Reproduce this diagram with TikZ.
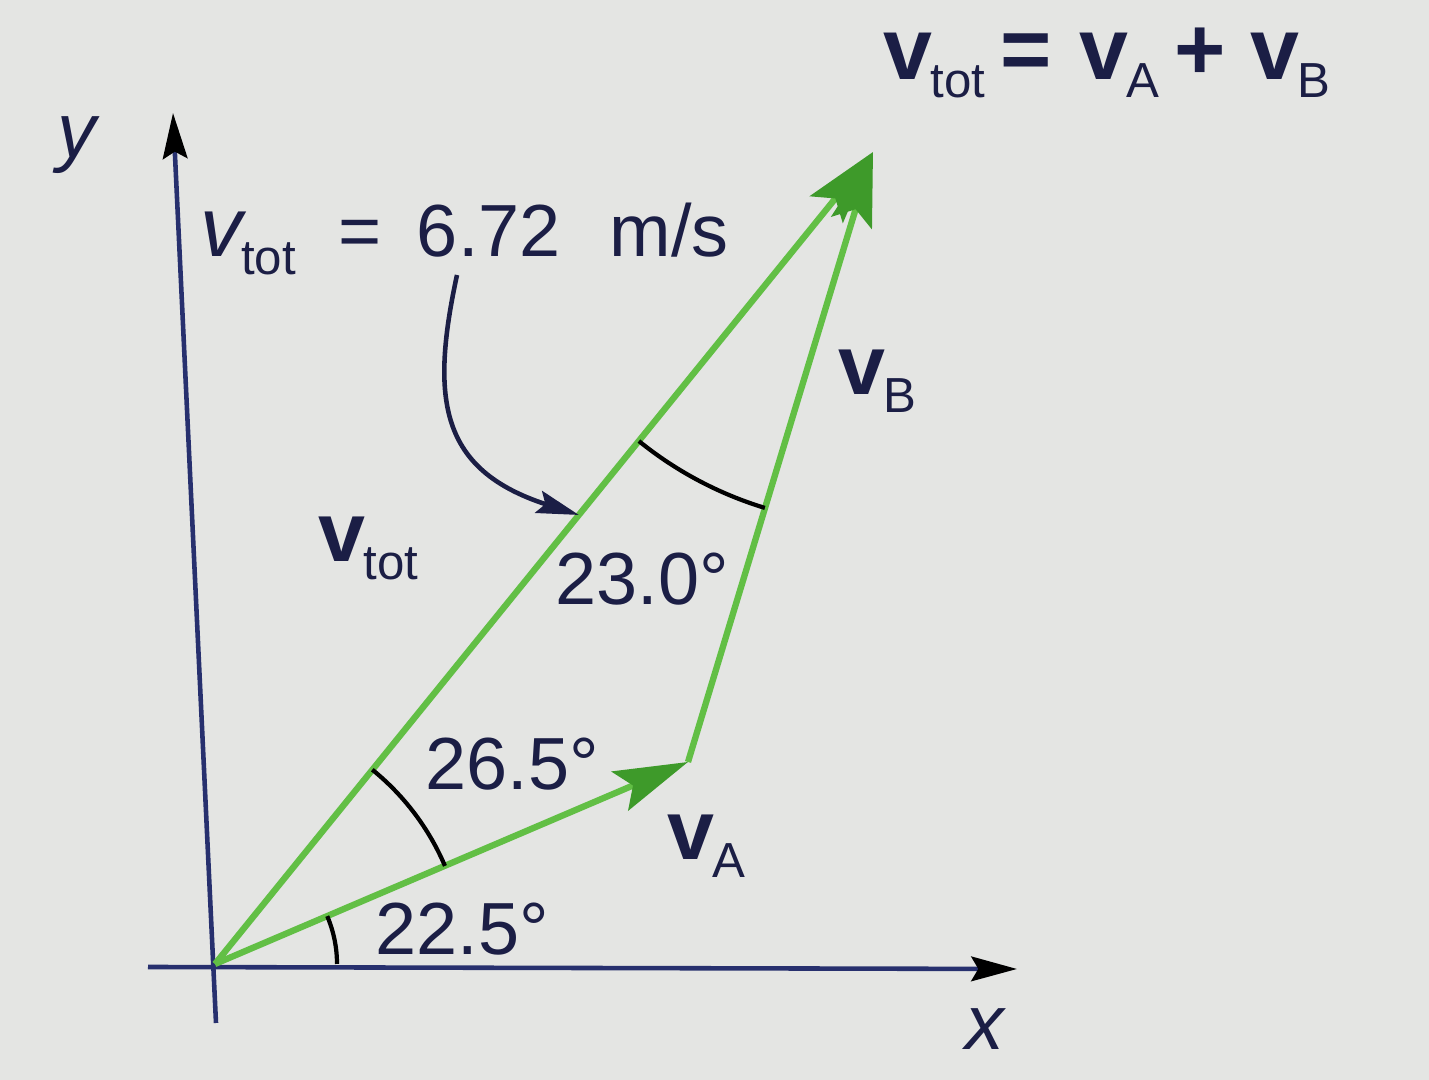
\documentclass[tikz,border=0pt]{standalone}
\usepackage{fontspec}
\setmainfont{Liberation Sans}
\usepackage{tikz}
\usetikzlibrary{arrows.meta}
\definecolor{bg}{HTML}{E4E5E3}
\definecolor{ink}{HTML}{1B1E45}
\definecolor{axis}{HTML}{27306E}
\definecolor{vline}{HTML}{62BF45}
\definecolor{vhead}{HTML}{3E9A2A}
\newcommand{\vel}[2]{#1\kern-0.5pt\raisebox{-5pt}{\fontsize{14}{16}\selectfont\mdseries\upshape #2}}

\begin{document}
\begin{tikzpicture}[x=0.01cm,y=-0.01cm,
  vec/.style={vline,line width=1.8pt,-{Stealth[length=21pt,width=12pt,inset=4pt,color=vhead]}},
  ax/.style={axis,line width=1.3pt,-{Stealth[length=13pt,width=7pt,inset=2pt,color=black]}},
  ang/.style={black,line width=1.2pt},
  num/.style={inner sep=0pt,text=ink,font=\fontsize{21}{25}\selectfont,anchor=base west},
  vlbl/.style={inner sep=0pt,text=ink,font=\fontsize{24}{28}\selectfont,anchor=base west}]
\fill[bg] (0,0) rectangle (1429,1080);
\useasboundingbox (0,0) rectangle (1429,1080);
% points
\coordinate (O) at (215,964);
\coordinate (A) at (688,762);
\coordinate (T) at (873,152);
\coordinate (xl) at (148,967);
\coordinate (xr) at (1017,969);
\coordinate (yb) at (216,1023);
\coordinate (yt) at (173,113);
\coordinate (c1) at (457,275);
% axes
\draw[ax] (xl) -- (xr);
\draw[ax] (yb) -- (yt);
% vectors
\draw[vec] (O) -- (A);
\draw[vec] (A) -- (T);
\draw[vec] (O) -- (T);
\path (O) -- (T) coordinate[pos=0.553] (P);
% angles
\draw[ang] (O) ++(0:122) arc[start angle=0,end angle=-23.1,radius=122];
\draw[ang] (O) ++(-23.1:250) arc[start angle=-23.1,end angle=-51,radius=250];
\draw[ang] (T) ++(106.9:372) arc[start angle=106.9,end angle=129,radius=372];
\draw[ink,line width=1.3pt,-{Stealth[length=12pt,width=6.5pt,inset=2pt]}] (c1) .. controls (430,400) and (440,470) .. (P);
% labels
\node[vlbl,font=\fontsize{25}{28}\selectfont] (sum) at (883,80) {\vel{\textbf{v}}{tot}\,\textbf{=}\hspace{8pt}\vel{\textbf{v}}{A}\,\textbf{+}\hspace{7pt}\vel{\textbf{v}}{B}};
\node[vlbl,font=\fontsize{24}{28}\selectfont\itshape] (vmag) at (200,257) {\vel{v}{tot}};
\node[num] (mag) at (338,257) {=\hspace{10pt}6.72\hspace{14pt}m/s};
\node[vlbl] (vtot) at (318,562) {\vel{\textbf{v}}{tot}};
\node[vlbl] (vA) at (667,860) {\vel{\textbf{v}}{A}};
\node[vlbl] (vB) at (838,395) {\vel{\textbf{v}}{B}};
\node[num] (a3) at (555,605) {23.0°};
\node[num] (a2) at (425,790) {26.5°};
\node[num] (a1) at (375,955) {22.5°};
\node[vlbl,font=\fontsize{22}{26}\selectfont\itshape] (ylab) at (57,158) {y};
\node[vlbl,font=\fontsize{22}{26}\selectfont\itshape] (xlab) at (965,1050) {x};
\end{tikzpicture}
\end{document}
